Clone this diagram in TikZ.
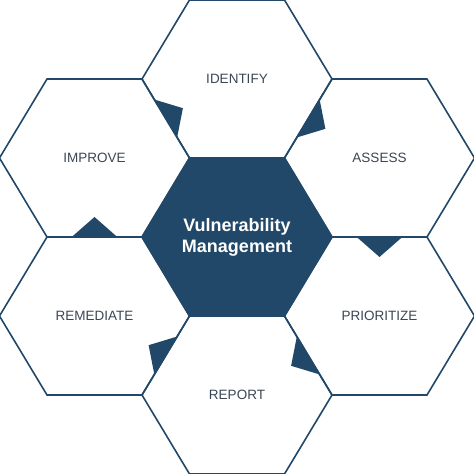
\documentclass[tikz,border=0pt]{standalone}
\usepackage{fontspec}
\setmainfont{Liberation Sans}
\usepackage{tikz}
\usetikzlibrary{calc}
\definecolor{vmblue}{RGB}{33,72,104}
\definecolor{vmtext}{RGB}{58,70,84}
\tikzset{hexline/.style={vmblue,line width=1.6pt,line join=miter},
 steplabel/.style={text=vmtext,font=\fontsize{13.5}{15}\selectfont},
 tab/.style={fill=vmblue}}

\begin{document}
\begin{tikzpicture}[x=1pt,y=1pt]
\useasboundingbox (-237,-237) rectangle (237,237);
\foreach \n/\x/\y/\t in {idt/0/158/IDENTIFY, ass/142.5/79/ASSESS, pri/142.5/-79/PRIORITIZE, rep/0/-158/REPORT, rem/-142.5/-79/REMEDIATE, imp/-142.5/79/IMPROVE} {
 \draw[hexline] (\x,\y) ++(95,0) --++(-47.5,79) --++(-95,0) --++(-47.5,-79) --++(47.5,-79) --++(95,0) -- cycle;
 \node[steplabel] (\n) at (\x,\y) {\t};
}
\filldraw[hexline,fill=vmblue] (95,0) -- (47.5,79) -- (-47.5,79) -- (-95,0) -- (-47.5,-79) -- (47.5,-79) -- cycle;
\node[align=center,text=white,font=\bfseries\fontsize{18}{21}\selectfont] (core) at (0,0) {Vulnerability\\Management};
\foreach \ax/\ay/\bx/\by in {-95/158/-47.5/79, 95/158/47.5/79, 190/0/95/0, 95/-158/47.5/-79, -95/-158/-47.5/-79, -190/0/-95/0} {
 \fill[tab] ($(\ax,\ay)!.26!(\bx,\by)$) -- ($(\ax,\ay)!.5!(\bx,\by)!20pt!90:(\bx,\by)$) -- ($(\ax,\ay)!.74!(\bx,\by)$) -- cycle;
}
\end{tikzpicture}
\end{document}
